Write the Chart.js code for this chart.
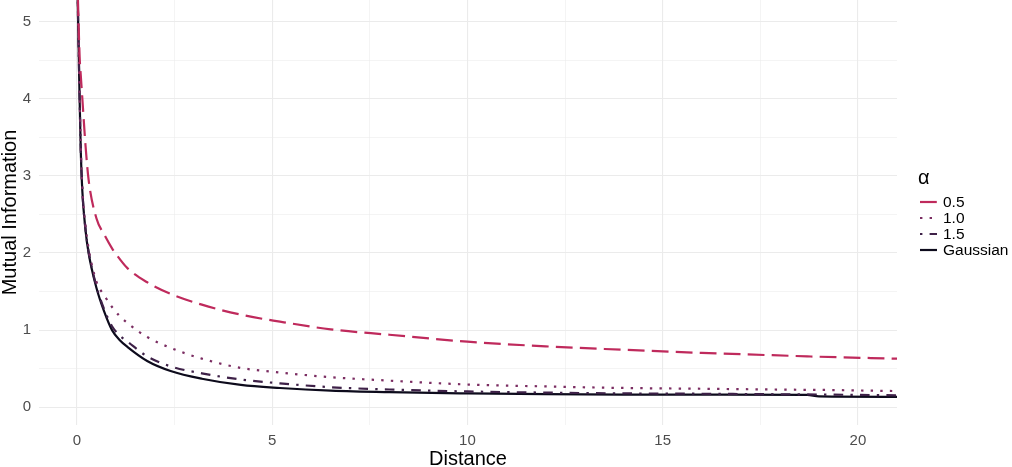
<!DOCTYPE html>
<html>
<head>
<meta charset="utf-8">
<script src="https://cdn.jsdelivr.net/npm/chart.js@4/dist/chart.umd.min.js"></script>
<style>
  body { margin: 0; background: #fff; }
  canvas { display: block; }
</style>
</head>
<body>
<canvas id="myChart" width="1012" height="467"></canvas>
<script>
// distances, shared by all curves
var distance = [0.01, 0.07, 0.1, 0.14, 0.22, 0.3, 0.5, 0.7, 0.9, 1.1, 1.3, 1.8, 2.4, 3.2, 4.2, 5.2, 6.5, 8, 10, 12, 14, 16, 18.7, 19, 21]
var alpha05  = [5.6, 4.55, 4.3, 4.0, 3.4, 2.95, 2.45, 2.24, 2.06, 1.92, 1.8, 1.62, 1.47, 1.33, 1.2, 1.11, 1.01, 0.94, 0.85, 0.79, 0.745, 0.705, 0.66, 0.655, 0.63]
var alpha10  = [5.6, 4.05, 3.4, 2.85, 2.36, 2.06, 1.63, 1.45, 1.3, 1.18, 1.09, 0.91, 0.77, 0.63, 0.51, 0.45, 0.39, 0.345, 0.295, 0.27, 0.25, 0.24, 0.226, 0.225, 0.21]
var alpha15  = [5.6, 4.0, 3.33, 2.8, 2.32, 2.02, 1.57, 1.27, 1.05, 0.93, 0.85, 0.66, 0.53, 0.44, 0.36, 0.31, 0.26, 0.23, 0.205, 0.19, 0.18, 0.175, 0.166, 0.165, 0.155]
var gaussian = [5.6, 4.0, 3.32, 2.8, 2.3, 2.0, 1.55, 1.24, 1.0, 0.87, 0.78, 0.60, 0.47, 0.37, 0.29, 0.25, 0.215, 0.195, 0.18, 0.17, 0.165, 0.163, 0.16, 0.14, 0.135]

var labels = ['0.5', '1.0', '1.5', 'Gaussian']
var colors = ['#bf2a5c', '#7b2d62', '#3e2148', '#0d0b1c']
var u = 2.4
var dashes = [[7*u, 3*u], [1*u, 3*u], [1*u, 3*u, 4*u, 3*u], []]
var series = [alpha05, alpha10, alpha15, gaussian]

function points(ys){
    var out = []
    for(var i=0;i<distance.length;i++){
        out.push({x: distance[i], y: ys[i]})
    }
    return out
}

var datasets = []
for(var i=0;i<series.length;i++){
    datasets.push({
        label: labels[i],
        data: points(series[i]),
        borderColor: colors[i],
        borderDash: dashes[i],
        borderWidth: 2.2,
        borderCapStyle: 'butt',
        pointRadius: 0,
        fill: false,
        cubicInterpolationMode: 'monotone'
    })
}

// ggplot-like legend on the right
const sideLegend = {
    id: 'sideLegend',
    afterDraw(chart){
        const ctx = chart.ctx
        ctx.save()
        ctx.fillStyle = '#000'
        ctx.textBaseline = 'middle'
        ctx.font = '20px "Liberation Sans", Arial, sans-serif'
        ctx.fillText('α', 918, 178)
        ctx.font = '15.5px "Liberation Sans", Arial, sans-serif'
        var rows = [202, 218, 234, 250]
        chart.data.datasets.forEach(function(ds, i){
            ctx.strokeStyle = ds.borderColor
            ctx.lineWidth = ds.borderWidth
            ctx.lineCap = 'butt'
            ctx.setLineDash(ds.borderDash)
            ctx.beginPath()
            ctx.moveTo(920, rows[i])
            ctx.lineTo(937, rows[i])
            ctx.stroke()
            ctx.setLineDash([])
            ctx.fillText(ds.label, 943, rows[i] + 1)
        })
        ctx.restore()
    }
}

function gridWidth(ctx, step){
    var v = ctx.tick.value
    return Math.abs(v / step - Math.round(v / step)) < 1e-6 ? 1.1 : 0.55
}

const ctx = document.getElementById('myChart')
const myChart = new Chart(ctx, {
    type: 'line',
    data: { datasets: datasets },
    plugins: [sideLegend],
    options: {
        responsive: false,
        animation: false,
        layout: { padding: { left: 0, right: 115, top: 0, bottom: 0 } },
        plugins: { legend: { display: false }, tooltip: { enabled: false } },
        scales: {
            x: {
                type: 'linear',
                min: -0.97,
                max: 21.0,
                afterFit: function(s){ s.height = 42; s.paddingLeft = 0; s.paddingRight = 0 },
                border: { display: false },
                grid: {
                    color: '#ebebeb',
                    drawTicks: false,
                    lineWidth: function(c){ return gridWidth(c, 5) }
                },
                ticks: {
                    stepSize: 2.5,
                    includeBounds: false,
                    padding: 7,
                    maxRotation: 0,
                    autoSkip: false,
                    color: '#4d4d4d',
                    font: { family: '"Liberation Sans", Arial, sans-serif', size: 15 },
                    callback: function(v){ return v % 5 === 0 ? String(v) : '' }
                },
                title: {
                    display: true,
                    text: 'Distance',
                    color: '#000',
                    padding: 0,
                    font: { family: '"Liberation Sans", Arial, sans-serif', size: 20, lineHeight: 0.75 }
                }
            },
            y: {
                type: 'linear',
                min: -0.23,
                max: 5.28,
                afterFit: function(s){ s.width = 39; s.paddingTop = 0; s.paddingBottom = 0 },
                border: { display: false },
                grid: {
                    color: '#ebebeb',
                    drawTicks: false,
                    lineWidth: function(c){ return gridWidth(c, 1) }
                },
                ticks: {
                    stepSize: 0.5,
                    includeBounds: false,
                    padding: 8,
                    autoSkip: false,
                    color: '#4d4d4d',
                    font: { family: '"Liberation Sans", Arial, sans-serif', size: 15 },
                    callback: function(v){ return v % 1 === 0 ? String(v) : '' }
                },
                title: {
                    display: true,
                    text: 'Mutual Information',
                    color: '#000',
                    padding: 0,
                    font: { family: '"Liberation Sans", Arial, sans-serif', size: 20, lineHeight: 1 }
                }
            }
        }
    }
})
</script>
</body>
</html>
